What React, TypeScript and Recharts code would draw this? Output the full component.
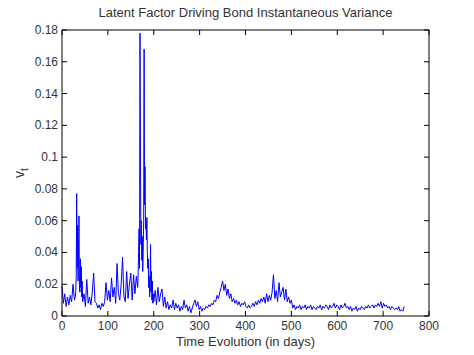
import { LineChart, Line, XAxis, YAxis } from "recharts";

// values in thousandths; each block has its own start day / step
const openDays = [19, 8, 14, 6, 12, 7, 13, 9, 20, 10]; // day 0.., step 3
const firstBurst = [12, 16, 25, 77, 30, 57, 22, 40, 63, 20, 15, 36, 18, 31, 12, 22, 9]; // day 29.., step 1
const preSpike = [
  14, 6, 23, 8, 12, 7, 15, 27, 9, 8,
  5, 7, 4, 8, 6, 9, 21, 10, 16, 9,
  24, 12, 18, 8, 33, 14, 10, 20, 37, 12,
  9, 28, 11, 20, 27, 10, 26, 14, 25, 18,
]; // day 48.., step 3
const mainSpike = [
  27, 40, 55, 30, 178, 107, 45, 60, 35, 50,
  28, 40, 60, 168, 70, 94, 55, 60, 48, 62,
  40, 30, 36, 18, 25, 12, 20, 45, 15, 28,
  10, 22, 8, 14, 9,
]; // day 166.., step 1
const middle = [
  16, 7, 18, 9, 14, 17, 6, 12, 5, 9,
  4, 7, 5, 10, 4, 8, 5, 7, 3, 6,
  4, 10, 5, 7, 3, 6, 2, 5, 8, 10,
  6, 9, 4, 6, 3, 5, 4, 6, 5, 7,
  6, 8, 7, 10, 9, 13, 11, 15, 18, 22,
  16, 20, 13, 17, 11, 14, 9, 11, 8, 10,
  7, 9, 6, 8, 7, 9, 6, 5, 7, 5,
  6, 8, 6, 9, 7, 10, 8, 11, 9, 12,
  8, 14, 9, 13, 10, 15, 26, 11, 16, 9,
  21, 12, 15, 18, 10, 17, 9, 12, 8,
]; // day 203.., step 3
const tail = [
  10, 5, 7, 4, 6, 5, 7, 4, 6, 5,
  7, 4, 6, 5, 7, 4, 6, 5, 4, 6,
  5, 7, 4, 6, 5, 7, 6, 4, 7, 5,
  6, 8, 5, 7, 6, 4, 7, 5, 6, 8,
  5, 6, 4, 6, 3, 5, 4, 6, 3, 5,
  4, 6, 5, 4, 6, 5, 7, 5, 6, 7,
  5, 7, 6, 8, 6, 9, 5, 8, 6, 7,
  5, 6, 4, 6, 5, 4, 5, 4, 6, 3,
  4, 3, 6,
]; // day 500.., step 3

const xTicks = [0, 100, 200, 300, 400, 500, 600, 700, 800];
const yTicks = [0, 0.02, 0.04, 0.06, 0.08, 0.1, 0.12, 0.14, 0.16, 0.18];

const block = (start: number, step: number, vals: number[]) =>
  vals.map((v, i) => ({ day: start + i * step, v: v / 1000 }));

const data = [
  ...block(0, 3, openDays),
  ...block(29, 1, firstBurst),
  ...block(48, 3, preSpike),
  ...block(166, 1, mainSpike),
  ...block(203, 3, middle),
  ...block(500, 3, tail),
];

const font = "'Liberation Sans', Arial, sans-serif";

const BottomTick = ({ x, y, payload }: any) => (
  <g>
    <line x1={x} x2={x} y1={y} y2={y - 5} stroke="#000" />
    <text x={x} y={y + 14} textAnchor="middle" fontSize={12} fill="#333" fontFamily={font}>
      {payload.value}
    </text>
  </g>
);

const LeftTick = ({ x, y, payload }: any) => (
  <g>
    <line x1={x} x2={x + 5} y1={y} y2={y} stroke="#000" />
    <text x={x - 4} y={y + 4} textAnchor="end" fontSize={12} fill="#333" fontFamily={font}>
      {payload.value}
    </text>
  </g>
);

const TopTick = ({ x, y }: any) => <line x1={x} x2={x} y1={y} y2={y + 5} stroke="#000" />;
const RightTick = ({ x, y }: any) => <line x1={x} x2={x - 5} y1={y} y2={y} stroke="#000" />;

const YLabel = ({ viewBox }: any) => {
  const cx = viewBox.x + 12;
  const cy = viewBox.y + viewBox.height / 2;
  return (
    <text
      x={cx}
      y={cy}
      transform={`rotate(-90, ${cx}, ${cy})`}
      textAnchor="middle"
      fontSize={14}
      fill="#333"
      fontFamily={font}
    >
      <tspan>v</tspan>
      <tspan dy={4} fontSize={10}>t</tspan>
    </text>
  );
};

export default function App() {
  return (
    <div style={{ position: "relative", width: 474, height: 355, background: "#fff" }}>
      <style>{`body{margin:0}`}</style>
      <div
        style={{
          position: "absolute",
          top: 5,
          left: 62,
          width: 367,
          textAlign: "center",
          fontFamily: font,
          fontSize: 13,
          color: "#333",
        }}
      >
        Latent Factor Driving Bond Instantaneous Variance
      </div>
      <LineChart width={474} height={355} data={data} margin={{ top: 29, right: 44, left: 12, bottom: 9 }}>
        <XAxis
          dataKey="day"
          type="number"
          domain={[0, 800]}
          ticks={xTicks}
          interval={0}
          tickSize={0}
          tickMargin={0}
          tickLine={false}
          tick={<BottomTick />}
          height={30}
          stroke="#000"
          label={{ value: "Time Evolution (in days)", position: "insideBottom", offset: 0, fontSize: 13, fill: "#333", fontFamily: font }}
        />
        <XAxis
          xAxisId="top"
          orientation="top"
          dataKey="day"
          type="number"
          domain={[0, 800]}
          ticks={xTicks}
          interval={0}
          tickSize={0}
          tickMargin={0}
          tickLine={false}
          tick={<TopTick />}
          height={1}
          stroke="#000"
        />
        <YAxis
          type="number"
          domain={[0, 0.18]}
          ticks={yTicks}
          interval={0}
          allowDataOverflow
          tickSize={0}
          tickMargin={0}
          tickLine={false}
          tick={<LeftTick />}
          width={50}
          stroke="#000"
          label={{ content: <YLabel /> }}
        />
        <YAxis
          yAxisId="right"
          orientation="right"
          type="number"
          domain={[0, 0.18]}
          ticks={yTicks}
          interval={0}
          tickSize={0}
          tickMargin={0}
          tickLine={false}
          tick={<RightTick />}
          width={1}
          stroke="#000"
        />
        <Line
          dataKey="v"
          type="linear"
          stroke="#0000ff"
          strokeWidth={1}
          dot={false}
          isAnimationActive={false}
        />
        <Line
          xAxisId="top"
          yAxisId="right"
          dataKey="v"
          stroke="none"
          dot={false}
          legendType="none"
          isAnimationActive={false}
        />
      </LineChart>
    </div>
  );
}
